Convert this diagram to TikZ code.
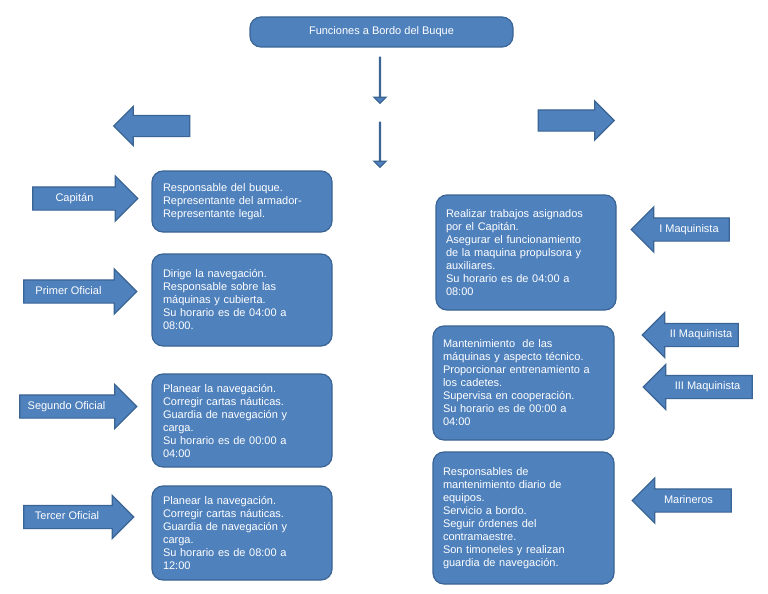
\documentclass[tikz,border=0pt]{standalone}
\usepackage{fontspec}
\setmainfont{Liberation Sans}
\usetikzlibrary{shapes.arrows}
\definecolor{bfill}{HTML}{4F81BD}
\definecolor{bdraw}{HTML}{3A6494}
\begin{document}
\begin{tikzpicture}[x=1pt,y=-1pt,
  box/.style={draw=bdraw,line width=1.2pt,fill=bfill,rounded corners=11pt,text=white,align=left,font=\fontsize{11}{13}\selectfont,inner sep=0pt},
  arr/.style={single arrow,draw=bdraw,line width=1.2pt,fill=bfill,text=white,font=\fontsize{11}{13}\selectfont,inner xsep=0pt,single arrow head indent=0pt,text height=8pt,text depth=3pt,inner ysep=5.5pt,single arrow head extend=11pt},
  plain/.style={arr,text height=0pt,text depth=0pt}]
\useasboundingbox (0,0) rectangle (768,594);
% boxes
\node[box,minimum width=263pt,minimum height=30pt,align=center] (title) at (381.5,32) {Funciones a Bordo del Buque};
\node[box,minimum width=180pt,minimum height=61pt,text width=158pt] (b1) at (242,201.5) {Responsable del buque.\\Representante del armador-\\Representante legal.};
\node[box,minimum width=180pt,minimum height=92pt,text width=158pt] (b2) at (242,300) {Dirige la navegación.\\Responsable sobre las\\máquinas y cubierta.\\Su horario es de 04:00 a\\08:00.};
\node[box,minimum width=180pt,minimum height=93pt,text width=158pt] (b3) at (242,420.5) {Planear la navegación.\\Corregir cartas náuticas.\\Guardia de navegación y\\carga.\\Su horario es de 00:00 a\\04:00};
\node[box,minimum width=180pt,minimum height=94pt,text width=158pt] (b4) at (242,533) {Planear la navegación.\\Corregir cartas náuticas.\\Guardia de navegación y\\carga.\\Su horario es de 08:00 a\\12:00};
\node[box,minimum width=180pt,minimum height=115pt,text width=160pt] (r1) at (526,252.5) {Realizar trabajos asignados\\por el Capitán.\\Asegurar el funcionamiento\\de la maquina propulsora y\\auxiliares.\\Su horario es de 04:00 a\\08:00};
\node[box,minimum width=181pt,minimum height=114pt,text width=161pt] (r2) at (523.5,383) {Mantenimiento\ \ de las\\máquinas y aspecto técnico.\\Proporcionar entrenamiento a\\los cadetes.\\Supervisa en cooperación.\\Su horario es de 00:00 a\\04:00};
\node[box,minimum width=181pt,minimum height=132pt,text width=161pt] (r3) at (523.5,518) {Responsables de\\mantenimiento diario de\\equipos.\\Servicio a bordo.\\Seguir órdenes del\\contramaestre.\\Son timoneles y realizan\\guardia de navegación.};
% arrows
\node[plain,shape border rotate=270,minimum height=46pt,inner ysep=10.5pt,single arrow head extend=5.5pt] (d1) at (380,80) {};
\node[plain,shape border rotate=270,minimum height=45pt,inner ysep=10.5pt,single arrow head extend=5.5pt] (d2) at (380,144.5) {};
\node[plain,shape border rotate=180,minimum height=76pt,inner ysep=10pt,single arrow head extend=9pt] (l0) at (157,126) {};
\node[plain,minimum height=76pt,inner ysep=10pt,single arrow head extend=9pt] (r0) at (571,120.5) {};
\node[arr,minimum height=105pt] (a1) at (79.5,198.5) {\hspace*{-10pt}Capitán};
\node[arr,minimum height=113pt] (a2) at (74.5,291.5) {\hspace*{-12pt}Primer Oficial};
\node[arr,minimum height=117pt,single arrow head extend=10.5pt] (a3) at (72.5,406.5) {\hspace*{-12pt}Segundo Oficial};
\node[arr,minimum height=110pt,single arrow head extend=10pt] (a4) at (73,517) {\hspace*{-12pt}Tercer Oficial};
\node[arr,shape border rotate=180,minimum height=98pt] (m1) at (686,229.5) {I Maquinista\hspace*{-6pt}};
\node[arr,shape border rotate=180,minimum height=96pt] (m2) at (696,335) {\hspace*{10pt}II Maquinista};
\node[arr,shape border rotate=180,minimum height=109pt] (m3) at (703.5,387) {\hspace*{8pt}III Maquinista};
\node[arr,shape border rotate=180,minimum height=99pt] (m4) at (687.5,500.5) {\hspace*{2pt}Marineros};
\end{tikzpicture}
\end{document}
